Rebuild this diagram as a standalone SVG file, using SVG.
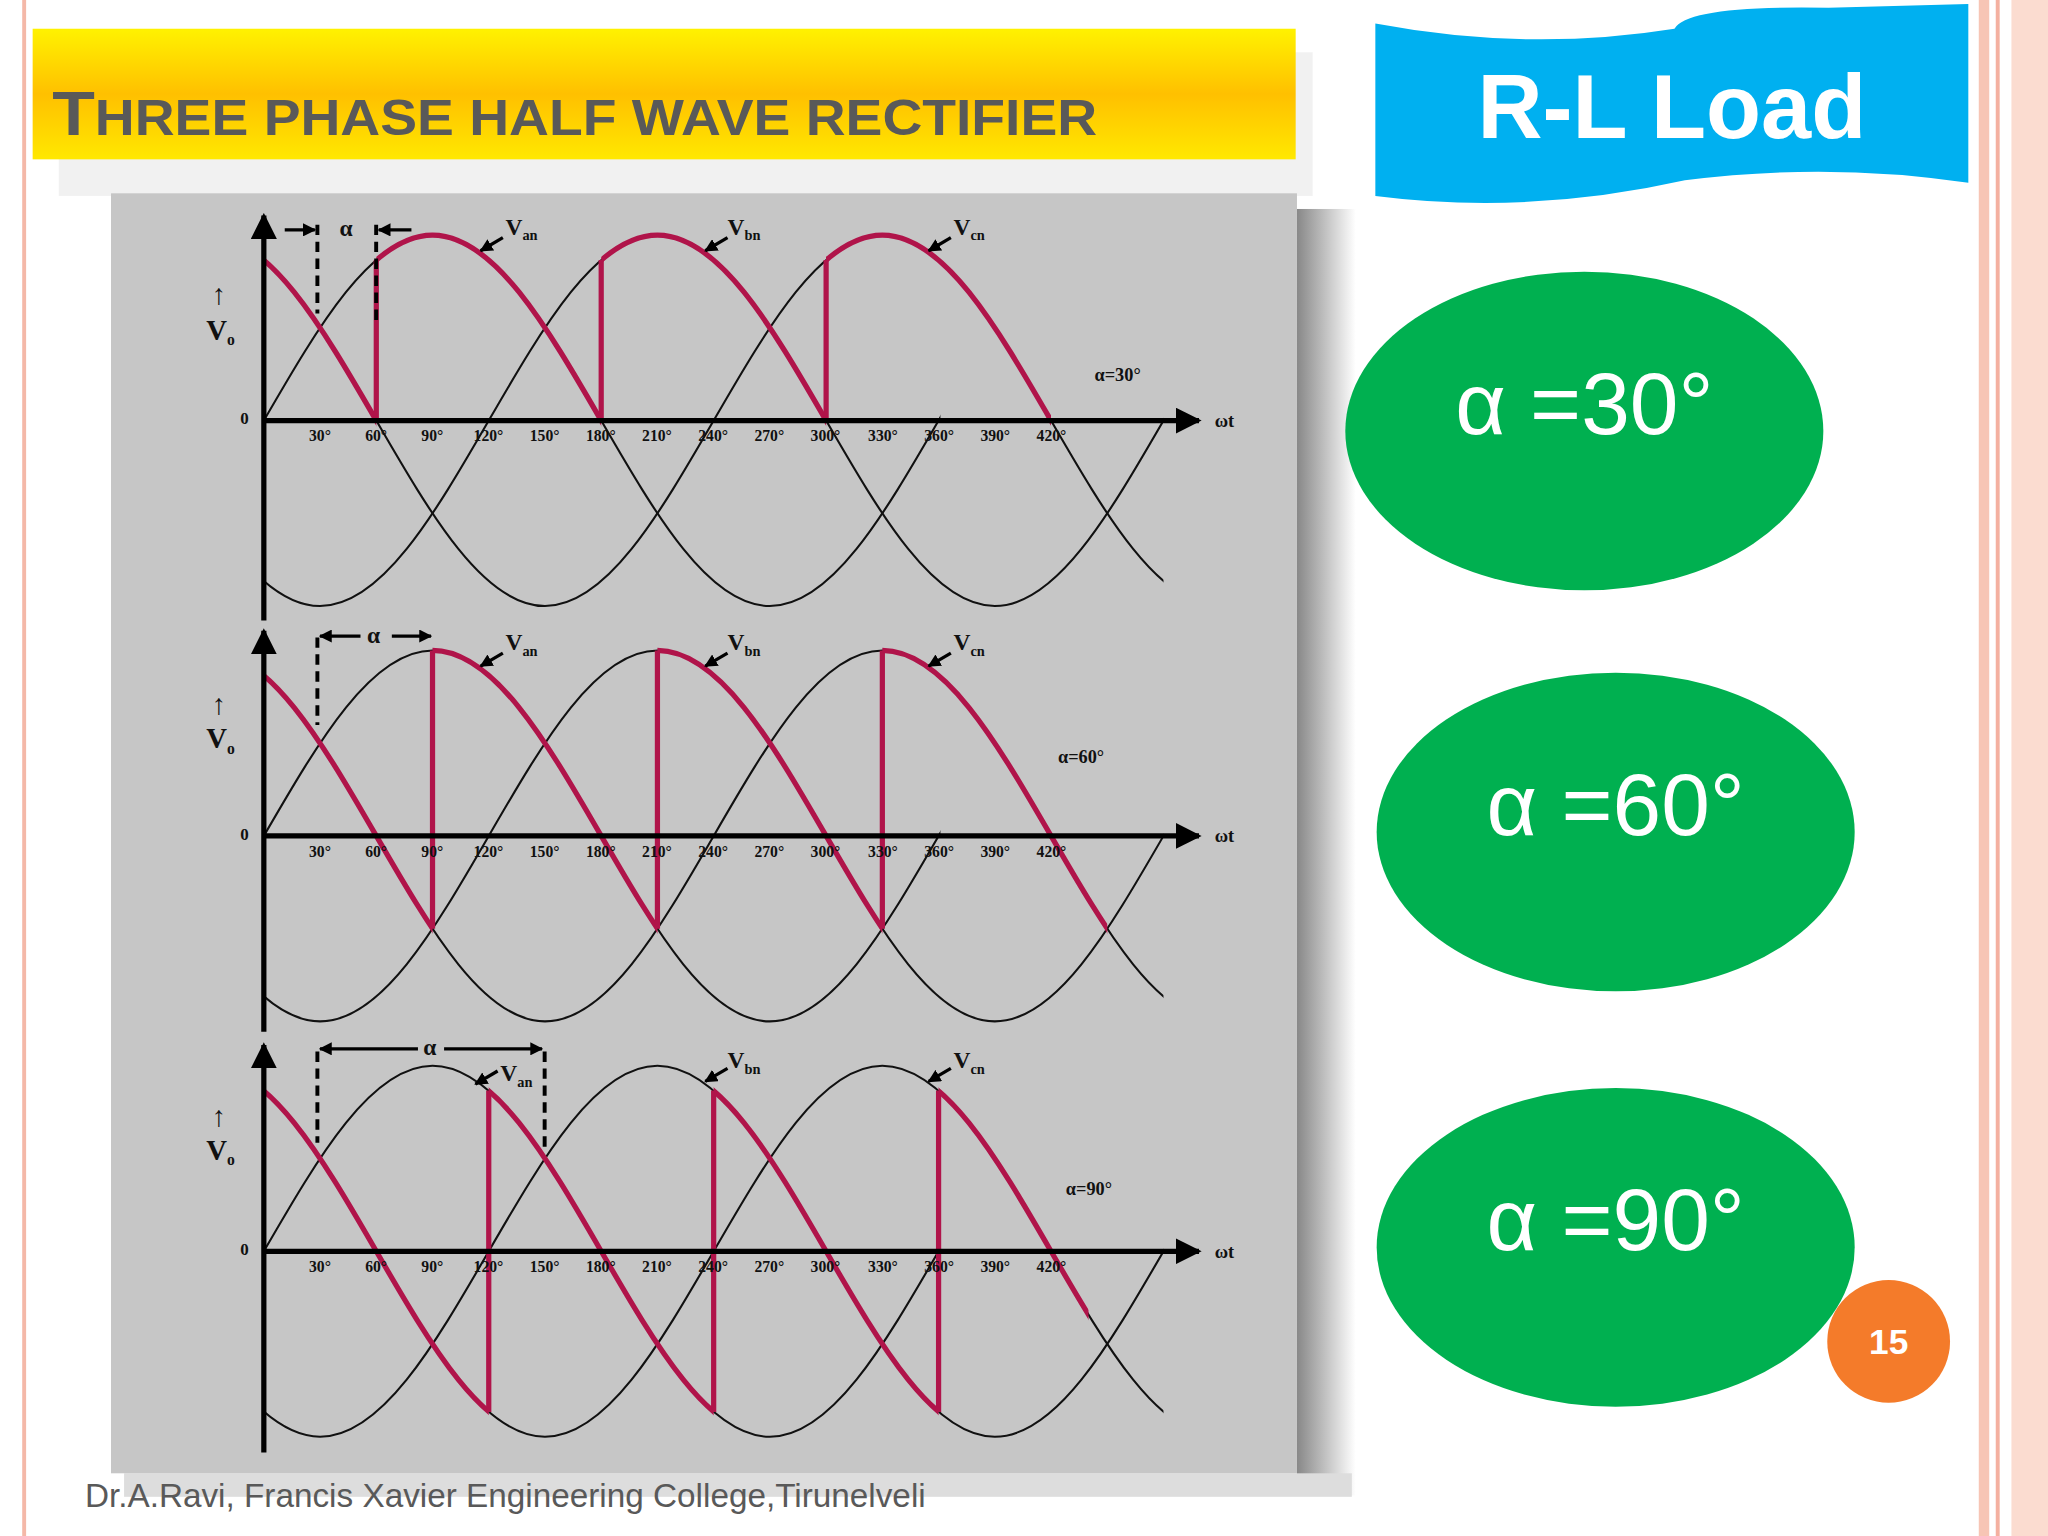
<svg xmlns="http://www.w3.org/2000/svg" xmlns:xlink="http://www.w3.org/1999/xlink" width="2048" height="1536" viewBox="0 0 2048 1536">
<style>
.blk{stroke:#111;stroke-width:1.6}
.red{stroke:#b0144a;stroke-width:4}
.rl{stroke:#b0144a;stroke-width:4}
.ax{stroke:#000;stroke-width:4;fill:none}
.dash{stroke:#000;stroke-width:3;stroke-dasharray:8,5;fill:none}
.deg{font-family:"Liberation Serif",serif;font-weight:bold;font-size:12px;fill:#111;text-anchor:middle}
.lab{font-family:"Liberation Serif",serif;font-weight:bold;font-size:18px;fill:#111}
.ell{fill:#00b050}
.et{font-family:"Liberation Sans",Arial,sans-serif;font-size:67px;fill:#fff;text-anchor:middle}
</style>
<defs>
<path id="w" fill="none" d="M0,0 c42.12,-72.75 82.41,-142 129.15,-142 c46.74,0 87.03,69.25 129.15,142 c42.12,72.75 82.41,142 129.15,142 c46.74,0 87.03,-69.25 129.15,-142 c42.12,-72.75 82.41,-142 129.15,-142 c46.74,0 87.03,69.25 129.15,142 c42.12,72.75 82.41,142 129.15,142 c46.74,0 87.03,-69.25 129.15,-142 c42.12,-72.75 82.41,-142 129.15,-142 c46.74,0 87.03,69.25 129.15,142 c42.12,72.75 82.41,142 129.15,142 c46.74,0 87.03,-69.25 129.15,-142"/>
<clipPath id="all"><rect x="202" y="0" width="688.8" height="1176"/></clipPath>
<clipPath id="va"><rect x="202" y="0" width="518" height="1176"/></clipPath>
<clipPath id="a1"><rect x="202" y="0" width="86.1" height="1176"/></clipPath>
<clipPath id="a2"><rect x="288.1" y="0" width="172.2" height="1176"/></clipPath>
<clipPath id="a3"><rect x="460.3" y="0" width="172.2" height="1176"/></clipPath>
<clipPath id="a4"><rect x="632.5" y="0" width="172.2" height="1176"/></clipPath>
<clipPath id="b1"><rect x="202" y="0" width="129.15" height="1176"/></clipPath>
<clipPath id="b2"><rect x="331.15" y="0" width="172.2" height="1176"/></clipPath>
<clipPath id="b3"><rect x="503.35" y="0" width="172.2" height="1176"/></clipPath>
<clipPath id="b4"><rect x="675.55" y="0" width="172.2" height="1176"/></clipPath>
<clipPath id="c1"><rect x="202" y="0" width="172.2" height="1176"/></clipPath>
<clipPath id="c2"><rect x="374.2" y="0" width="172.2" height="1176"/></clipPath>
<clipPath id="c3"><rect x="546.4" y="0" width="172.2" height="1176"/></clipPath>
<clipPath id="c4"><rect x="718.6" y="0" width="114.8" height="1176"/></clipPath>
<linearGradient id="yel" x1="0" y1="0" x2="0" y2="1"><stop offset="0" stop-color="#fff200"/><stop offset="0.5" stop-color="#ffc000"/><stop offset="1" stop-color="#ffe800"/></linearGradient>
<linearGradient id="shd" x1="0" y1="0" x2="1" y2="0"><stop offset="0" stop-color="#888"/><stop offset="1" stop-color="#fff"/></linearGradient>
<marker id="arr" viewBox="0 0 10 10" refX="9" refY="5" markerWidth="5" markerHeight="5" orient="auto"><path d="M0,0 L10,5 L0,10 Z" fill="#000"/></marker>
<marker id="ar2" viewBox="0 0 10 10" refX="9" refY="5" markerWidth="4" markerHeight="4" orient="auto"><path d="M0,0 L10,5 L0,10 Z" fill="#000"/></marker>
</defs>
<rect width="2048" height="1536" fill="#fff"/>
<g transform="scale(1.30612)">
<g id="frame">
<rect x="17" y="0" width="3" height="1176" fill="#f4b8a8"/>
<rect x="1515" y="0" width="8" height="1176" fill="#f7c5b5"/>
<rect x="1528" y="0" width="3" height="1176" fill="#f4b0a0"/>
<rect x="1540" y="0" width="28" height="1176" fill="#fbdcd0"/>
</g>
<g id="title">
<rect x="45" y="40" width="960" height="110" fill="#e8e8e8" opacity="0.6"/>
<rect x="25" y="22" width="967" height="100" fill="url(#yel)"/>
<text x="40" y="103" font-family="Liberation Sans,Arial,sans-serif" font-weight="bold" fill="#595959" font-size="38" textLength="800" lengthAdjust="spacingAndGlyphs"><tspan font-size="48">T</tspan>HREE PHASE HALF WAVE RECTIFIER</text>
</g>
<g id="banner">
<path d="M1053,18 Q1170,40 1282,22 Q1292,4 1400,6 L1507,3 L1507,140 Q1400,124 1290,138 Q1170,165 1053,150 Z" fill="#00b0f0"/>
<text x="1280" y="106" font-family="Liberation Sans,Arial,sans-serif" font-weight="bold" font-size="69" fill="#fff" text-anchor="middle">R-L Load</text>
</g>
<g id="image">
<rect x="993" y="160" width="45" height="985" fill="url(#shd)"/>
<rect x="95" y="1128" width="940" height="18" fill="#ddd"/>
<rect x="85" y="148" width="908" height="980" fill="#c6c6c6"/>
<g clip-path="url(#va)">
<use xlink:href="#w" class="blk" transform="translate(-314.6,322)"/>
<use xlink:href="#w" class="blk" transform="translate(-314.6,640)"/>
<use xlink:href="#w" class="blk" transform="translate(-314.6,958)"/>
</g>
<g clip-path="url(#all)">
<use xlink:href="#w" class="blk" transform="translate(-142.4,322)"/><use xlink:href="#w" class="blk" transform="translate(29.8,322)"/>
<use xlink:href="#w" class="blk" transform="translate(-142.4,640)"/><use xlink:href="#w" class="blk" transform="translate(29.8,640)"/>
<use xlink:href="#w" class="blk" transform="translate(-142.4,958)"/><use xlink:href="#w" class="blk" transform="translate(29.8,958)"/>
</g>
<g clip-path="url(#a1)"><use xlink:href="#w" class="red" transform="translate(29.8,322)"/></g>
<g clip-path="url(#a2)"><use xlink:href="#w" class="red" transform="translate(-314.6,322)"/></g>
<g clip-path="url(#a3)"><use xlink:href="#w" class="red" transform="translate(-142.4,322)"/></g>
<g clip-path="url(#a4)"><use xlink:href="#w" class="red" transform="translate(29.8,322)"/></g>
<g clip-path="url(#b1)"><use xlink:href="#w" class="red" transform="translate(29.8,640)"/></g>
<g clip-path="url(#b2)"><use xlink:href="#w" class="red" transform="translate(-314.6,640)"/></g>
<g clip-path="url(#b3)"><use xlink:href="#w" class="red" transform="translate(-142.4,640)"/></g>
<g clip-path="url(#b4)"><use xlink:href="#w" class="red" transform="translate(29.8,640)"/></g>
<g clip-path="url(#c1)"><use xlink:href="#w" class="red" transform="translate(29.8,958)"/></g>
<g clip-path="url(#c2)"><use xlink:href="#w" class="red" transform="translate(-314.6,958)"/></g>
<g clip-path="url(#c3)"><use xlink:href="#w" class="red" transform="translate(-142.4,958)"/></g>
<g clip-path="url(#c4)"><use xlink:href="#w" class="red" transform="translate(29.8,958)"/></g>
<g class="rl">
<line x1="288.1" y1="322" x2="288.1" y2="199"/><line x1="460.3" y1="322" x2="460.3" y2="199"/><line x1="632.5" y1="322" x2="632.5" y2="199"/>
<line x1="331.15" y1="711" x2="331.15" y2="498"/><line x1="503.35" y1="711" x2="503.35" y2="498"/><line x1="675.55" y1="711" x2="675.55" y2="498"/>
<line x1="374.2" y1="1081" x2="374.2" y2="835"/><line x1="546.4" y1="1081" x2="546.4" y2="835"/><line x1="718.6" y1="1081" x2="718.6" y2="835"/>
</g>
<g class="ax">
<line x1="202" y1="475" x2="202" y2="165" marker-end="url(#arr)"/>
<line x1="202" y1="322" x2="918" y2="322" marker-end="url(#arr)"/>
<line x1="202" y1="790" x2="202" y2="483" marker-end="url(#arr)"/>
<line x1="202" y1="640" x2="918" y2="640" marker-end="url(#arr)"/>
<line x1="202" y1="1112" x2="202" y2="800" marker-end="url(#arr)"/>
<line x1="202" y1="958" x2="918" y2="958" marker-end="url(#arr)"/>
</g>
<g id="alpha-marks">
<line x1="243" y1="172" x2="243" y2="240" class="dash"/><line x1="288" y1="172" x2="288" y2="245" class="dash"/>
<line x1="218" y1="176" x2="241" y2="176" stroke="#000" stroke-width="2.5" marker-end="url(#ar2)"/>
<line x1="315" y1="176" x2="290" y2="176" stroke="#000" stroke-width="2.5" marker-end="url(#ar2)"/>
<text x="260" y="181" class="lab" font-size="14">α</text>
<line x1="243" y1="488" x2="243" y2="555" class="dash"/>
<line x1="276" y1="487" x2="245" y2="487" stroke="#000" stroke-width="2.5" marker-end="url(#ar2)"/>
<line x1="300" y1="487" x2="330" y2="487" stroke="#000" stroke-width="2.5" marker-end="url(#ar2)"/>
<text x="281" y="492" class="lab" font-size="14">α</text>
<line x1="243" y1="805" x2="243" y2="875" class="dash"/><line x1="417" y1="805" x2="417" y2="878" class="dash"/>
<line x1="320" y1="803" x2="245" y2="803" stroke="#000" stroke-width="2.5" marker-end="url(#ar2)"/>
<line x1="340" y1="803" x2="415" y2="803" stroke="#000" stroke-width="2.5" marker-end="url(#ar2)"/>
<text x="324" y="808" class="lab" font-size="14">α</text>
</g>
<g id="vlabels" class="lab">
<text x="387" y="180">V<tspan font-size="11" dy="4">an</tspan></text>
<text x="557" y="180">V<tspan font-size="11" dy="4">bn</tspan></text>
<text x="730" y="180">V<tspan font-size="11" dy="4">cn</tspan></text>
<text x="387" y="498">V<tspan font-size="11" dy="4">an</tspan></text>
<text x="557" y="498">V<tspan font-size="11" dy="4">bn</tspan></text>
<text x="730" y="498">V<tspan font-size="11" dy="4">cn</tspan></text>
<text x="383" y="828">V<tspan font-size="11" dy="4">an</tspan></text>
<text x="557" y="818">V<tspan font-size="11" dy="4">bn</tspan></text>
<text x="730" y="818">V<tspan font-size="11" dy="4">cn</tspan></text>
</g>
<g stroke="#000" stroke-width="2.5">
<line x1="385" y1="182" x2="368" y2="192" marker-end="url(#ar2)"/>
<line x1="557" y1="182" x2="540" y2="192" marker-end="url(#ar2)"/>
<line x1="728" y1="182" x2="711" y2="192" marker-end="url(#ar2)"/>
<line x1="385" y1="500" x2="368" y2="510" marker-end="url(#ar2)"/>
<line x1="557" y1="500" x2="540" y2="510" marker-end="url(#ar2)"/>
<line x1="728" y1="500" x2="711" y2="510" marker-end="url(#ar2)"/>
<line x1="381" y1="820" x2="364" y2="830" marker-end="url(#ar2)"/>
<line x1="557" y1="818" x2="540" y2="828" marker-end="url(#ar2)"/>
<line x1="728" y1="818" x2="711" y2="828" marker-end="url(#ar2)"/>
</g>
<g class="lab">
<text x="162" y="233" font-size="22">↑</text><text x="158" y="260" font-size="22">V<tspan font-size="12" dy="4">o</tspan></text>
<text x="162" y="547" font-size="22">↑</text><text x="158" y="573" font-size="22">V<tspan font-size="12" dy="4">o</tspan></text>
<text x="162" y="862" font-size="22">↑</text><text x="158" y="888" font-size="22">V<tspan font-size="12" dy="4">o</tspan></text>
<text x="184" y="325" font-size="13">0</text><text x="184" y="643" font-size="13">0</text><text x="184" y="961" font-size="13">0</text>
<text x="930" y="327" font-size="14">ωt</text><text x="930" y="645" font-size="14">ωt</text><text x="930" y="963" font-size="14">ωt</text>
<text x="838" y="292" font-size="14">α=30°</text>
<text x="810" y="584" font-size="14">α=60°</text>
<text x="816" y="915" font-size="14">α=90°</text>
</g>
<g id="deg1" class="deg" transform="translate(0,338)">
<text x="245">30°</text><text x="288">60°</text><text x="331">90°</text><text x="374">120°</text><text x="417">150°</text><text x="460">180°</text><text x="503">210°</text><text x="546">240°</text><text x="589">270°</text><text x="632">300°</text><text x="676">330°</text><text x="719">360°</text><text x="762">390°</text><text x="805">420°</text>
</g>
<g id="deg2" class="deg" transform="translate(0,656)">
<text x="245">30°</text><text x="288">60°</text><text x="331">90°</text><text x="374">120°</text><text x="417">150°</text><text x="460">180°</text><text x="503">210°</text><text x="546">240°</text><text x="589">270°</text><text x="632">300°</text><text x="676">330°</text><text x="719">360°</text><text x="762">390°</text><text x="805">420°</text>
</g>
<g id="deg3" class="deg" transform="translate(0,974)">
<text x="245">30°</text><text x="288">60°</text><text x="331">90°</text><text x="374">120°</text><text x="417">150°</text><text x="460">180°</text><text x="503">210°</text><text x="546">240°</text><text x="589">270°</text><text x="632">300°</text><text x="676">330°</text><text x="719">360°</text><text x="762">390°</text><text x="805">420°</text>
</g>
</g>
<g id="e30"><ellipse cx="1213" cy="330" rx="183" ry="122" class="ell"/><text x="1213" y="332" class="et">α =30°</text></g>
<g id="e60"><ellipse cx="1237" cy="637" rx="183" ry="122" class="ell"/><text x="1237" y="639" class="et">α =60°</text></g>
<g id="e90"><ellipse cx="1237" cy="955" rx="183" ry="122" class="ell"/><text x="1237" y="957" class="et">α =90°</text></g>
<g id="page"><circle cx="1446" cy="1027" r="47" fill="#f47b2a"/><text x="1446" y="1037" font-family="Liberation Sans,Arial,sans-serif" font-weight="bold" font-size="27" fill="#fff" text-anchor="middle">15</text></g>
<text x="65" y="1154" font-family="Liberation Sans,Arial,sans-serif" font-size="25.5" fill="#595959">Dr.A.Ravi, Francis Xavier Engineering College,Tirunelveli</text>
</g>
</svg>
